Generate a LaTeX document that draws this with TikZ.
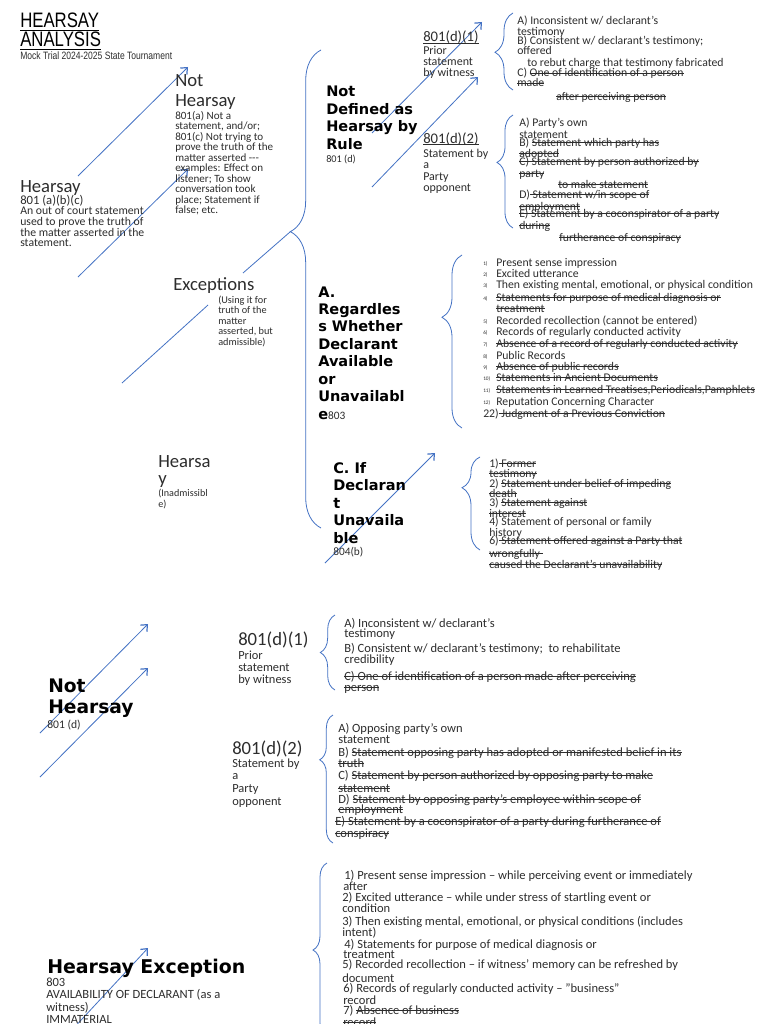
\documentclass[tikz,border=0pt]{standalone}
\usepackage{fontspec}
\setmainfont{Carlito}
\newfontfamily\hdfont{DejaVu Sans}
\newfontfamily\ttlfont[FakeStretch=0.8]{Liberation Sans}
\usetikzlibrary{arrows.meta, decorations.pathreplacing}

\definecolor{lineblue}{RGB}{68,114,196}
\definecolor{txtgray}{RGB}{45,45,45}

%strike out and underline
\newsavebox{\strkbox}
\newcommand{\strk}[1]{\sbox{\strkbox}{#1}\rlap{\rule[0.27em]{\wd\strkbox}{0.07em}}\usebox{\strkbox}}
\newcommand{\uln}[1]{\sbox{\strkbox}{#1}\rlap{\rule[-0.14em]{\wd\strkbox}{0.06em}}\usebox{\strkbox}}

\begin{document}
\begin{tikzpicture}[x=0.75pt, y=-0.75pt,
		every node/.style={inner sep=0pt, anchor=base west, text=txtgray},
		hd/.style={font=\hdfont\bfseries\fontsize{10.9}{12}\selectfont, text=black},
		hdL/.style={font=\hdfont\bfseries\fontsize{14}{16}\selectfont, text=black},
		big/.style={font=\fontsize{14}{16}\selectfont},
		sub/.style={font=\fontsize{7.7}{8}\selectfont},
		item/.style={font=\fontsize{8.8}{9}\selectfont},
		itemL/.style={font=\fontsize{9.4}{10}\selectfont},
		arr/.style={draw=lineblue, line width=0.6pt, -{Straight Barb[length=4pt, width=7pt, line width=0.9pt]}},
		brc/.style={draw=lineblue, line width=0.6pt, decorate, decoration={brace}}
	]
		%page
		\path[use as bounding box] (0,0) rectangle (768,1024);
		\fill[white] (0,0) rectangle (768,1024);
		\clip (0,0) rectangle (768,1024);
		
		%title
		\node[font=\ttlfont\fontsize{15.7}{18}\selectfont, text=black] (ttl1) at (20,28) {\uln{HEARSAY}};
		\node[font=\ttlfont\fontsize{15.7}{18}\selectfont, text=black] (ttl2) at (20,47) {\uln{ANALYSIS}};
		\node[font=\ttlfont\fontsize{8}{9}\selectfont] (ttl3) at (20,60) {Mock Trial 2024-2025 State Tournament};
		
		%arrow end points
		\coordinate (h1) at (78,176);   \coordinate (nh1) at (188,67);
		\coordinate (h2) at (78,277);   \coordinate (nh2) at (188,169);
		\coordinate (ex1) at (122,383); \coordinate (ex2) at (208,305);
		\coordinate (ex3) at (243,273); \coordinate (tip) at (290,232);
		\coordinate (r1) at (372,133);  \coordinate (d1) at (482,22);
		\coordinate (r2) at (372,187);  \coordinate (d2) at (478,77);
		\coordinate (c1) at (325,563);  \coordinate (c2) at (435,453);
		\coordinate (n1) at (40,733);   \coordinate (n2) at (148,624);
		\coordinate (n3) at (40,777);   \coordinate (n4) at (148,668);
		\coordinate (e1) at (70,1032);  \coordinate (e2) at (148,948);
		
		%arrows
		\draw[arr] (h1) -- (nh1);
		\draw[arr] (h2) -- (nh2);
		\draw[draw=lineblue, line width=0.6pt] (ex1) -- (ex2) (ex3) -- (tip);
		\draw[arr] (r1) -- (d1);
		\draw[arr] (r2) -- (d2);
		\draw[arr] (c1) -- (c2);
		\draw[arr] (n1) -- (n2);
		\draw[arr] (n3) -- (n4);
		\draw[arr] (e1) -- (e2);
		
		%braces
		\draw[brc, decoration={amplitude=23pt, aspect=0.62}] (321,528) -- (321,50);
		\draw[brc, decoration={amplitude=13.5pt, aspect=0.49}] (513,90) -- (513,13);
		\draw[brc, decoration={amplitude=12pt, aspect=0.58}] (513,228) -- (513,115);
		\draw[brc, decoration={amplitude=15pt, aspect=0.64}] (462,428) -- (462,255);
		\draw[brc, decoration={amplitude=13.5pt, aspect=0.67}] (480,550) -- (480,457);
		\draw[brc, decoration={amplitude=11pt, aspect=0.5}] (335,690) -- (335,615);
		\draw[brc, decoration={amplitude=10pt, aspect=0.65}] (333,843) -- (333,715);
		\draw[brc, decoration={amplitude=10.5pt, aspect=0.5}] (327,1037) -- (327,863);
		
		%hearsay
		\node[big] (hs) at (20,192) {Hearsay};
		\node[font=\fontsize{9.5}{11}\selectfont] (hsrule) at (20,204) {801 (a)(b)(c)};
		\foreach \y/\t [count=\i] in {214/{An out of court statement}, 225/{used to prove the truth of}, 236/{the matter asserted in the}, 246/{statement.}}
			\node[font=\fontsize{8.8}{9}\selectfont] (hsdef\i) at (20,\y) {\t};
		
		%not hearsay
		\node[big] (nh) at (175,87) {Not};
		\node[big] (nh2t) at (175,107) {Hearsay};
		\foreach \t [count=\i from 0] in {{801(a) Not a}, {statement, and/or;}, {801(c) Not trying to}, {prove the truth of the}, {matter asserted -{}-{}-}, {examples: Effect on}, {listener; To show}, {conversation took}, {place; Statement if}, {false; etc.}}
			\node[font=\fontsize{8.3}{9}\selectfont] (nhb\i) at (175,{119+10.5*\i}) {\t};
		
		%exceptions
		\node[big] (exc) at (173,290) {Exceptions};
		\foreach \t [count=\i from 0] in {{(Using it for}, {truth of the}, {matter}, {asserted, but}, {admissible)}}
			\node[sub] (excb\i) at (218,{303+10.5*\i}) {\t};
		
		%inadmissible
		\node[big] (ina1) at (158,467) {Hearsa};
		\node[big] (ina2) at (158,484) {y};
		\node[font=\fontsize{7.6}{8}\selectfont] (ina3) at (158,496) {(Inadmissibl};
		\node[font=\fontsize{7.6}{8}\selectfont] (ina4) at (158,507) {e)};
		
		%not defined by rule
		\foreach \t [count=\i from 0] in {Not, Defined as, Hearsay by, Rule}
			\node[hd] (ndr\i) at (326,{97+17.4*\i}) {\t};
		\node[sub] (ndrn) at (326,162) {801 (d)};
		
		%801(d)(1) upper
		\node[font=\fontsize{11}{13}\selectfont] (u1) at (423,42) {\uln{801(d)(1)}};
		\foreach \t [count=\i from 0] in {Prior, statement, by witness}
			\node[font=\fontsize{9}{10}\selectfont] (u1b\i) at (423,{55+10.5*\i}) {\t};
		\foreach \x/\y/\t [count=\i] in {517/25/{A) Inconsistent w/ declarant's}, 517/36/{testimony}, 517/45/{B) Consistent w/ declarant's testimony;}, 517/55/{offered}, 527/67/{to rebut charge that testimony fabricated}, 517/77/{C) \strk{One of identification of a person}}, 517/87/{\strk{made}}, 556/100/{\strk{after perceiving person}}}
			\node[item] (u1l\i) at (\x,\y) {\t};
		
		%801(d)(2) upper
		\node[font=\fontsize{11}{13}\selectfont] (u2) at (423,143) {\uln{801(d)(2)}};
		\foreach \t [count=\i from 0] in {Statement by, a, Party, opponent}
			\node[font=\fontsize{9}{10}\selectfont] (u2b\i) at (423,{157+11.6*\i}) {\t};
		\foreach \x/\y/\t [count=\i] in {519/126/{A) Party's own}, 519/138/{statement}, 519/146/{B) \strk{Statement which party has}}, 519/157/{\strk{adopted}}, 519/165/{\strk{C) Statement by person authorized by}}, 519/177/{\strk{party}}, 558/188/{\strk{to make statement}}, 519/198/{D)\strk{ Statement w/in scope of}}, 519/210/{\strk{employment}}, 519/217/{\strk{E) Statement by a coconspirator of a party}}, 519/229/{\strk{during}}, 559/241/{\strk{furtherance of conspiracy}}}
			\node[item] (u2l\i) at (\x,\y) {\t};
		
		%A. regardless
		\foreach \t [count=\i from 0] in {A., Regardles, s Whether, Declarant, Available, or, Unavailabl}
			\node[hd] (ra\i) at (318,{297+17.4*\i}) {\t};
		\node[hd] (ra7) at (318,419) {e{\normalfont\fontsize{8.5}{9}\selectfont\color{txtgray}803}};
		\foreach \y/\t [count=\i] in {266/{Present sense impression}, 277/{Excited utterance}, 288/{Then existing mental, emotional, or physical condition}, 301/{\strk{Statements for purpose of medical diagnosis or}}, 312/{\strk{treatment}}, 324/{Recorded recollection (cannot be entered)}, 335/{Records of regularly conducted activity}, 347/{\strk{Absence of a record of regularly conducted activity}}, 359/{Public Records}, 370/{\strk{Absence of public records}}, 381/{\strk{Statements in Ancient Documents}}, 393/{\strk{Statements in Learned Treatises,Periodicals,Pamphlets}}, 405/{Reputation Concerning Character}}
			\node[item] (al\i) at (496,\y) {\t};
		\foreach \n/\y in {1/266, 2/277, 3/288, 4/301, 5/324, 6/335, 7/347, 8/359, 9/370, 10/381, 11/393, 12/405}
			\node[font=\fontsize{4}{5}\selectfont] (an\n) at (483,\y-1) {\n)};
		\node[item] (al14) at (483,417) {22)\strk{ Judgment of a Previous Conviction}};
		
		%C. unavailable
		\foreach \t [count=\i from 0] in {C. If, Declaran, t, Unavaila, ble}
			\node[hd] (cu\i) at (333,{473+17.5*\i}) {\t};
		\node[font=\fontsize{8.5}{9}\selectfont] (cun) at (333,555) {804(b)};
		\foreach \y/\t [count=\i] in {467/{1)\strk{ Former}}, 477/{\strk{testimony}}, 487/{2) \strk{Statement under belief of impeding}}, 497/{\strk{death}}, 506/{3) \strk{Statement against}}, 517/{\strk{interest}}, 525/{4) Statement of personal or family}, 536/{history}, 544/{6)\strk{ Statement offered against a Party that}}, 557/{\strk{wrongfully }}, 568/{\strk{caused the Declarant's unavailability}}}
			\node[item] (cl\i) at (489,\y) {\t};
		
		%not hearsay lower
		\node[hdL] (lnh1) at (48,692) {Not};
		\node[hdL] (lnh2) at (48,713) {Hearsay};
		\node[font=\fontsize{8.7}{9}\selectfont] (lnh3) at (47,728) {801 (d)};
		
		\node[big] (l1) at (238,645) {801(d)(1)};
		\foreach \t [count=\i from 0] in {Prior, statement, by witness}
			\node[font=\fontsize{9.3}{11}\selectfont] (l1b\i) at (238,{659+12*\i}) {\t};
		\foreach \y/\t [count=\i] in {627/{A) Inconsistent w/ declarant's}, 637/{testimony}, 652/{B) Consistent w/ declarant's testimony;\ \ to rehabilitate}, 663/{credibility}, 680/{\strk{C) One of identification of a person made after perceiving}}, 691/{\strk{person}}}
			\node[itemL] (l1l\i) at (344,\y) {\t};
		
		\node[big] (l2) at (232,754) {801(d)(2)};
		\foreach \t [count=\i from 0] in {Statement by, a, Party, opponent}
			\node[font=\fontsize{9.3}{11}\selectfont] (l2b\i) at (232,{767+12.8*\i}) {\t};
		\foreach \x/\y/\t [count=\i] in {338/732/{A) Opposing party's own}, 338/743/{statement}, 338/756/{B) \strk{Statement opposing party has adopted or manifested belief in its}}, 338/767/{\strk{truth}}, 338/779/{C) \strk{Statement by person authorized by opposing party to make}}, 338/792/{\strk{statement}}, 338/803/{D) \strk{Statement by opposing party's employee within scope of}}, 338/813/{\strk{employment}}, 335/825/{\strk{E) Statement by a coconspirator of a party during furtherance of}}, 335/837/{\strk{conspiracy}}}
			\node[itemL] (l2l\i) at (\x,\y) {\t};
		
		%hearsay exception
		\node[font=\hdfont\bfseries\fontsize{14.2}{16}\selectfont, text=black] (hx) at (47,973) {Hearsay Exception};
		\foreach \y/\t [count=\i] in {986/{803}, 998/{AVAILABILITY OF DECLARANT (as a}, 1011/{witness)}, 1023/{IMMATERIAL}}
			\node[itemL] (hxb\i) at (46,\y) {\t};
		\foreach \x/\y/\t [count=\i] in {344/879/{1) Present sense impression -- while perceiving event or immediately}, 343/890/{after}, 342/901/{2) Excited utterance -- while under stress of startling event or}, 342/912/{condition}, 342/925/{3) Then existing mental, emotional, or physical conditions (includes}, 342/936/{intent)}, 344/948/{4) Statements for purpose of medical diagnosis or}, 343/958/{treatment}, 342/968/{5) Recorded recollection -- if witness' memory can be refreshed by}, 342/982/{document}, 343/992/{6) Records of regularly conducted activity -- "business"}, 343/1004/{record}, 343/1014/{7) \strk{Absence of business}}, 343/1026/{\strk{record}}}
			\node[itemL] (hxl\i) at (\x,\y) {\t};

	\end{tikzpicture}
\end{document}
